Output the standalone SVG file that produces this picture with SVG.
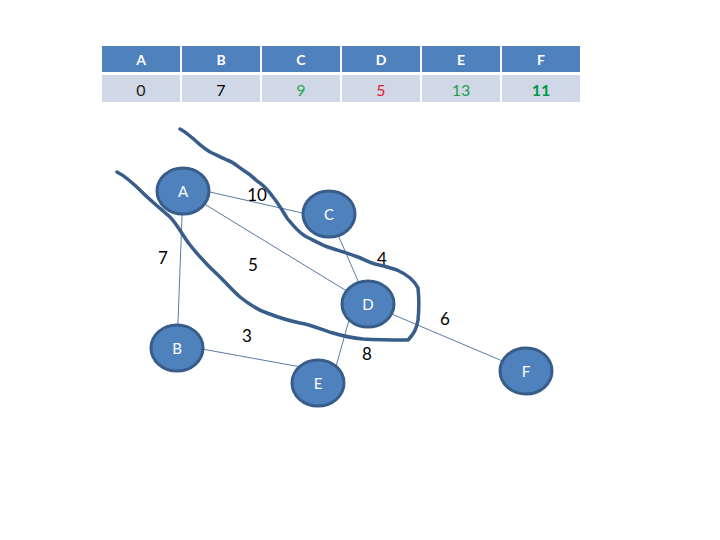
<svg xmlns="http://www.w3.org/2000/svg" width="720" height="540" viewBox="0 0 720 540">
<style>
text{font-family:Lato,"Liberation Sans",sans-serif;text-anchor:middle;dominant-baseline:central}
.hd{fill:#4F81BD}
.vl{fill:#D0D8E8}
.ht{fill:#fff;font-size:14px;font-weight:bold}
.vt{font-size:16px}
.node ellipse{fill:#4F81BD;stroke:#385D8A;stroke-width:3}
.node text{fill:#fff;font-size:15px}
.edge{stroke:#5B7BA3;stroke-width:1;fill:none}
.el{font-size:17px;fill:#000}
.cut{fill:none;stroke:#385D8A;stroke-width:3.5;stroke-linecap:round;stroke-linejoin:round}
</style>
<rect width="720" height="540" fill="#fff"/>
<g id="table">
<rect class="hd" x="102" y="46" width="78" height="26"/>
<rect class="hd" x="182" y="46" width="78" height="26"/>
<rect class="hd" x="262" y="46" width="78" height="26"/>
<rect class="hd" x="342" y="46" width="78" height="26"/>
<rect class="hd" x="422" y="46" width="78" height="26"/>
<rect class="hd" x="502" y="46" width="78" height="26"/>
<rect class="vl" x="102" y="75" width="78" height="27"/>
<rect class="vl" x="182" y="75" width="78" height="27"/>
<rect class="vl" x="262" y="75" width="78" height="27"/>
<rect class="vl" x="342" y="75" width="78" height="27"/>
<rect class="vl" x="422" y="75" width="78" height="27"/>
<rect class="vl" x="502" y="75" width="78" height="27"/>
<text class="ht" x="141" y="59">A</text>
<text class="ht" x="221" y="59">B</text>
<text class="ht" x="301" y="59">C</text>
<text class="ht" x="381" y="59">D</text>
<text class="ht" x="461" y="59">E</text>
<text class="ht" x="541" y="59">F</text>
<text class="vt" x="141" y="89" fill="#222">0</text>
<text class="vt" x="221" y="89" fill="#000">7</text>
<text class="vt" x="301" y="89" fill="#2EA65A">9</text>
<text class="vt" x="381" y="89" fill="#E0202A">5</text>
<text class="vt" x="461" y="89" fill="#1E9E50">13</text>
<text class="vt" x="541" y="89" fill="#00994A" font-weight="bold">11</text>
</g>
<g id="connectors">
<line class="edge" x1="190" y1="187.5" x2="320" y2="217"/>
<line class="edge" x1="183" y1="191" x2="177" y2="348"/>
<line class="edge" x1="183" y1="191" x2="368" y2="304"/>
<line class="edge" x1="329" y1="214" x2="368" y2="304"/>
<line class="edge" x1="351" y1="313" x2="335" y2="370"/>
<line class="edge" x1="368" y1="304" x2="526" y2="371"/>
<line class="edge" x1="180" y1="345" x2="312" y2="369"/>
</g>
<g id="labels">
<text class="el" x="257" y="194">10</text>
<text class="el" x="163" y="257">7</text>
<text class="el" x="253" y="264">5</text>
<text class="el" x="382" y="258">4</text>
<text class="el" x="247" y="335">3</text>
<text class="el" x="367" y="353">8</text>
<text class="el" x="445" y="318">6</text>
</g>
<path id="cut" class="cut" d="M117,172 C125,176 132,182 143,193 C150,200 162,210 170,217 C177,224 183,236 190,245 C198,255 210,268 220,277 C228,285 234,292 240,297 C250,305 258,310 267,313 C280,318 290,321 300,323 C312,325 322,330 333,333 C343,336 352,338 363,339 C378,340 395,340 408,340 C414,334 417,328 418,320 C419,310 419,297 418,288 C414,280 406,274 397,270 C388,267 380,265 375,264 C368,262 364,259 355,256 C345,252 336,250 325,246 C318,243 313,240 305,236 C297,231 292,224 287,218 C282,210 278,203 273,197 C268,190 264,185 257,181 C252,176 248,173 243,170 C236,165 233,162 227,160 C220,157 215,154 210,152 C204,148 200,145 197,142 C191,137 186,132 180,129"/>
<g id="node-A" class="node"><ellipse cx="183" cy="191" rx="26" ry="23"/><text x="183" y="191">A</text></g>
<g id="node-C" class="node"><ellipse cx="329" cy="214" rx="26" ry="23"/><text x="329" y="214">C</text></g>
<g id="node-D" class="node"><ellipse cx="368" cy="304" rx="26" ry="23"/><text x="368" y="304">D</text></g>
<g id="node-B" class="node"><ellipse cx="177" cy="348" rx="26" ry="23"/><text x="177" y="348">B</text></g>
<g id="node-E" class="node"><ellipse cx="318" cy="383" rx="26" ry="23"/><text x="318" y="383">E</text></g>
<g id="node-F" class="node"><ellipse cx="526" cy="371" rx="26" ry="23"/><text x="526" y="371">F</text></g>
</svg>
